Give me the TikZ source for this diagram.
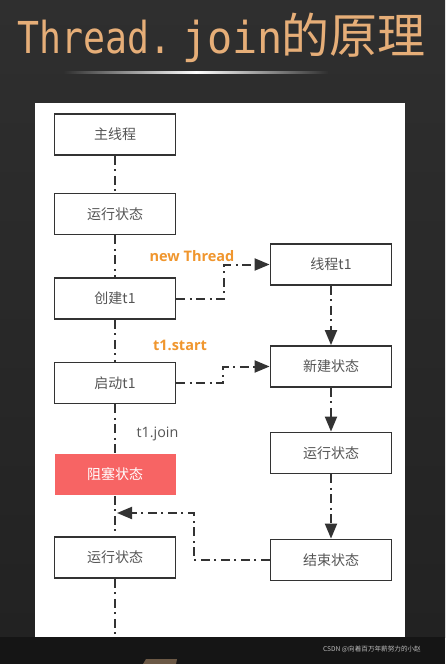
\documentclass[tikz,border=0pt]{standalone}
\usepackage{fontspec}
\setmainfont{Noto Sans CJK SC}
\newfontfamily\cjkfont{Noto Sans CJK SC}
\newfontfamily\titlemono{DejaVu Sans Mono}
\newfontfamily\labfont{Open Sans}
\usetikzlibrary{arrows.meta,calc}
\definecolor{bgtop}{HTML}{2F2F2F}
\definecolor{bgbot}{HTML}{222222}
\definecolor{bgband}{HTML}{151515}
\definecolor{titlec}{HTML}{E6AE78}
\definecolor{boxc}{HTML}{333333}
\definecolor{txtc}{HTML}{555555}
\definecolor{linec}{HTML}{333333}
\definecolor{orangec}{HTML}{F0962E}
\definecolor{redc}{HTML}{F76464}
\definecolor{brownc}{HTML}{6B5845}
\definecolor{wmc}{HTML}{BBBBBB}
\begin{document}
\begin{tikzpicture}[x=1pt,y=-1pt,
  box/.style={draw=boxc, line width=1.8pt, minimum width=121pt, minimum height=41pt,
    inner sep=0pt, fill=white, text=txtc, font=\cjkfont\fontsize{14}{16}\selectfont},
  redbox/.style={box, draw=none, fill=redc, text=white},
  flow/.style={draw=linec, line width=2pt, dash pattern=on 9pt off 4.5pt on 2pt off 4.5pt},
  arr/.style={flow, -{Triangle[length=15pt,width=12pt]}},
  lab/.style={text=orangec, font=\labfont\bfseries\fontsize{14.5}{16}\selectfont, inner sep=0pt},
  glab/.style={text=txtc, font=\labfont\fontsize{14.3}{16}\selectfont, inner sep=0pt}]
\useasboundingbox (0,0) rectangle (445,664);
% background
\shade[top color=bgtop, bottom color=bgbot] (0,0) rectangle (445,637);
\fill[bgband] (0,637) rectangle (445,664);
% title
\node[anchor=base west, inner sep=0pt, text=titlec] (t1) at (17,53)
  {\scalebox{0.83}[1]{\titlemono\fontsize{44}{44}\selectfont Thread.}};
\node[anchor=base west, inner sep=0pt, text=titlec] (t1b) at (182,53)
  {\scalebox{0.95}[1]{\titlemono\fontsize{44}{44}\selectfont join}};
\node[anchor=base west, inner sep=0pt, text=titlec] (t2) at (281,53)
  {\cjkfont\fontsize{48}{48}\selectfont 的原理};
\shade[left color=bgtop, right color=bgtop, middle color=white] (64,71) rectangle (328,73);
% panel
\fill[white] (35,103) rectangle (405,637);
% boxes
\node[box] (m) at (115,134.5) {主线程};
\node[box] (r1) at (115,214) {运行状态};
\node[box] (c) at (115,298.5) {创建t1};
\node[box] (s) at (115,383) {启动t1};
\node[redbox] (b) at (115,474.5) {阻塞状态};
\node[box] (r2) at (115,557.5) {运行状态};
\node[box] (t) at (331,264.5) {线程t1};
\node[box] (n) at (331,366.5) {新建状态};
\node[box] (r3) at (331,453) {运行状态};
\node[box] (e) at (331,560) {结束状态};
\coordinate (bot) at (115,637);
\coordinate (j) at (117,513);
% main line
\draw[flow] (m) -- (r1);
\draw[flow] (r1) -- (c);
\draw[flow] (c) -- (s);
\draw[flow] (s) -- (b);
\draw[flow] (b) -- (r2);
\draw[flow] (r2.south) -- (bot);
% thread t1
\draw[arr] (c.east) -- ++(48,0) |- (t.west);
\draw[arr] (s.east) -- ++(47,0) |- (n.west);
\draw[arr] (t) -- (n);
\draw[arr] (n) -- (r3);
\draw[arr] (r3) -- (e);
\draw[arr] (e.west) -- ++(-76,0) |- (j);
% labels
\node[lab] (l1) at (192,256) {new Thread};
\node[lab] (l2) at (180,345) {t1.start};
\node[glab] (l3) at (157.5,434) {t1.join};
% watermark and bottom shape
\node[anchor=west, inner sep=0pt, text=wmc, font=\cjkfont\fontsize{6.6}{8}\selectfont] (wm) at (323,649) {CSDN @向着百万年薪努力的小赵};
\fill[brownc] (146,659) -- (177,659) -- (176,664) -- (143,664) -- cycle;
\end{tikzpicture}
\end{document}
